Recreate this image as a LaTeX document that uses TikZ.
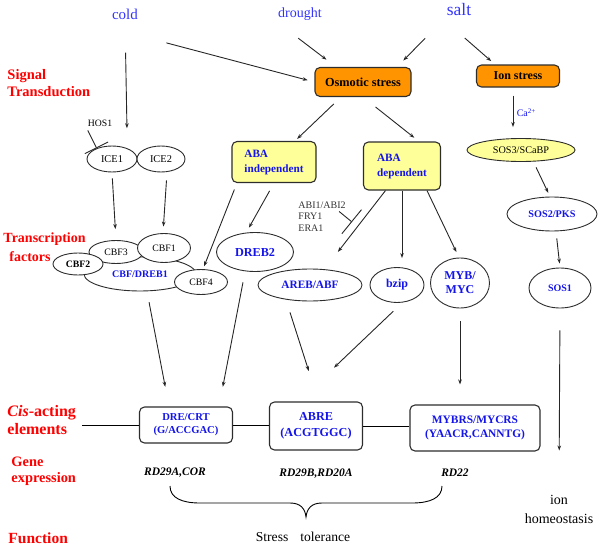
\documentclass[tikz,border=0pt]{standalone}
\usepackage{fontspec}
\setmainfont{Liberation Serif}
\usetikzlibrary{shapes.geometric,arrows.meta}

\definecolor{stimblue}{RGB}{51,51,255}
\definecolor{nodeblue}{RGB}{20,20,235}
\definecolor{osmorange}{RGB}{255,148,0}
\definecolor{abayellow}{RGB}{255,255,153}
\definecolor{edgegray}{RGB}{45,45,45}
\newcommand{\fsz}[2]{\fontsize{#1}{#2}\selectfont}

\begin{document}
\begin{tikzpicture}[x=1pt,y=-1pt,line width=0.9pt,
  stage/.style={text=red,align=left,anchor=west,inner sep=0pt},
  stim/.style={text=stimblue,inner sep=1pt},
  ell/.style={ellipse,draw=edgegray,fill=white,inner sep=0pt},
  yell/.style={ell,fill=abayellow},
  obox/.style={rectangle,rounded corners=5pt,draw=edgegray,fill=osmorange,line width=1.1pt,inner sep=0pt},
  ybox/.style={obox,fill=abayellow,text=nodeblue,align=left},
  cbox/.style={obox,fill=white,text=nodeblue,align=center},
  gene/.style={font=\bfseries\itshape\fsz{11.5}{13}},
  arr/.style={-{Stealth[length=5pt,width=3.6pt]},draw=black!85},
  inh/.style={-{Bar[width=#1]},draw=black!85},
]
\useasboundingbox (0,0) rectangle (600,546);

% stimuli and stage labels
\node[stim,font=\fsz{15}{18}] (cold) at (125,14) {cold};
\node[stim,font=\fsz{14}{17}] (drought) at (300,14) {drought};
\node[stim,font=\fsz{17.5}{20}] (salt) at (459,10) {salt};

\node[stage,font=\bfseries\fsz{14.5}{17}] (signal) at (7,83.5) {Signal\\Transduction};
\node[stage,font=\bfseries\fsz{14}{19}] (transf) at (3,247.5) {Transcription\\\hspace*{6pt}factors};
\node[stage,font=\bfseries\fsz{16}{18}] (cis) at (7,420) {\textit{Cis}-acting\\elements};
\node[stage,font=\bfseries\fsz{14.4}{16}] (geneexp) at (11,471) {Gene\\expression};
\node[stage,font=\bfseries\fsz{15.5}{18}] (func) at (8,538) {Function};

% signal transduction
\node[obox,minimum width=96pt,minimum height=29pt,font=\bfseries\fsz{12.3}{14}] (osm) at (363,82) {Osmotic stress};
\node[obox,minimum width=83pt,minimum height=22pt,font=\bfseries\fsz{12}{14}] (ion) at (518,76) {Ion stress};
\node[yell,minimum width=108pt,minimum height=23pt,font=\fsz{10.2}{12}] (sos3) at (521,150) {SOS3/SCaBP};
\node[ell,text=nodeblue,minimum width=90pt,minimum height=34pt,font=\bfseries\fsz{10.2}{12}] (sos2) at (552,214) {SOS2/PKS};
\node[ell,text=nodeblue,minimum width=62pt,minimum height=40pt,font=\bfseries\fsz{10}{12}] (sos1) at (560,288) {SOS1};
\node[font=\fsz{14}{19},align=center] (homeo) at (559,509.5) {ion\\homeostasis};

\node[font=\fsz{9.7}{11},inner sep=1pt] (hos1) at (100,123) {HOS1};
\node[ell,minimum width=50pt,minimum height=26pt,font=\fsz{10.4}{12}] (ice1) at (112,159) {ICE1};
\node[ell,minimum width=48pt,minimum height=26pt,font=\fsz{10.4}{12}] (ice2) at (161,159) {ICE2};

\node[ybox,minimum width=84pt,minimum height=41pt,font=\bfseries\fsz{11.2}{15}] (abaind) at (274,162) {ABA\\independent};
\node[ybox,minimum width=77pt,minimum height=48pt,font=\bfseries\fsz{11.2}{15}] (abadep) at (402,166) {ABA\\dependent};
\node[font=\fsz{10}{11.5},align=left,anchor=west,inner sep=1pt,text=black!80] (abi) at (297,216.5) {ABI1/ABI2\\FRY1\\ERA1};
\coordinate (abiblock) at (352,222);

% transcription factors
\node[ell,text=nodeblue,minimum width=77pt,minimum height=39pt,font=\bfseries\fsz{12.2}{14}] (dreb2) at (255,252) {DREB2};
\node[ell,text=nodeblue,minimum width=104pt,minimum height=32pt,font=\bfseries\fsz{11.3}{13}] (areb) at (310,285) {AREB/ABF};
\node[ell,text=nodeblue,minimum width=54pt,minimum height=35pt,font=\bfseries\fsz{12}{14}] (bzip) at (397,285) {bzip};
\node[ell,text=nodeblue,minimum width=59pt,minimum height=50pt,font=\bfseries\fsz{12}{14},align=center] (myb) at (460,283) {MYB/\\MYC};

\node[ell,text=nodeblue,minimum width=112pt,minimum height=34pt,font=\bfseries\fsz{10}{12}] (cbfdreb) at (140,274) {CBF/DREB1};
\node[ell,minimum width=54pt,minimum height=23pt,font=\fsz{9.8}{12}] (cbf3) at (116,252) {CBF3};
\node[ell,minimum width=53pt,minimum height=29pt,font=\fsz{9.8}{12}] (cbf1) at (164,248) {CBF1};
\node[ell,minimum width=50pt,minimum height=22pt,font=\bfseries\fsz{9.8}{12}] (cbf2) at (78,264) {CBF2};
\node[ell,minimum width=53pt,minimum height=25pt,font=\fsz{9.8}{12}] (cbf4) at (201,282) {CBF4};

% cis-acting elements and genes
\node[cbox,minimum width=93pt,minimum height=36pt,font=\bfseries\fsz{10.6}{13}] (dre) at (186,425) {DRE/CRT\\(G/ACCGAC)};
\node[cbox,minimum width=93pt,minimum height=48pt,font=\bfseries\fsz{12.2}{15.5}] (abre) at (316,426) {ABRE\\(ACGTGGC)};
\node[cbox,minimum width=130pt,minimum height=46pt,font=\bfseries\fsz{11.4}{14}] (mybrs) at (475,428) {MYBRS/MYCRS\\(YAACR,CANNTG)};

\node[gene] (rd29a) at (175,473) {RD29A,COR};
\node[gene] (rd29b) at (316,474) {RD29B,RD20A};
\node[gene] (rd22) at (455,473) {RD22};
\node[font=\fsz{13.6}{16}] (tol) at (303,537) {Stress\hspace{12pt}tolerance};

\draw[shorten <=6pt] (cis.east |- dre.west) -- (dre.west);
\draw (dre.east) -- (dre.east -| abre.west);
\draw (abre.east) -- (abre.east -| mybrs.west);

% arrows
\draw[arr,shorten <=32pt,shorten >=20pt] (cold.south) -- (ice1.35);
\draw[arr,shorten <=28pt,shorten >=7pt] ([yshift=-15pt]cold.south east) -- (osm.west);
\draw[arr,shorten <=27pt,shorten >=12pt] (drought.south west) -- ([xshift=-27pt]osm.north);
\draw[arr,shorten <=29pt,shorten >=9pt] (salt.south west) -- ([xshift=34pt]osm.north);
\draw[arr,shorten <=31pt,shorten >=5pt] ([xshift=-4pt]salt.south west) -- ([xshift=-23pt]ion.north);
\draw[arr,shorten <=10pt,shorten >=3pt] ([xshift=-22pt]osm.south) -- ([xshift=21pt]abaind.north);
\draw[arr,shorten <=16pt,shorten >=6pt] (osm.south) -- ([xshift=17pt]abadep.north);
\draw[arr,shorten <=8pt,shorten >=11pt] ([xshift=-5pt]ion.south) -- ([xshift=-8pt]sos3.north)
  node[midway,right,text=nodeblue,font=\fsz{10}{12}] (ca) {Ca\textsuperscript{2+}};
\draw[arr,shorten <=6pt,shorten >=4pt] ([xshift=12.5pt]sos3.south) -- ([xshift=-2pt]sos2.north);
\draw[arr,shorten <=7pt,shorten >=4pt] ([xshift=4pt]sos2.south) -- (sos1.north);
\draw[arr,shorten <=22pt,shorten >=41pt] (sos1.south) -- (homeo.north);

\draw[inh=26pt,shorten <=3pt] (hos1.south west) -- (ice1.145);
\draw[inh=31pt] ([shift={(-8pt,5pt)}]abi.east) -- (abiblock);

\draw[arr,shorten <=6pt,shorten >=11pt] (ice1.south) -- (cbf3.north);
\draw[arr,shorten <=8pt,shorten >=6.5pt] ([xshift=6pt]ice2.south) -- ([xshift=-1pt]cbf1.north);
\draw[arr,shorten <=7pt,shorten >=3pt] ([xshift=5.5pt]abaind.south west) -- ([xshift=2pt]cbf4.north);
\draw[arr,shorten <=9pt,shorten >=5pt] (abaind.south) -- ([xshift=-8.5pt]dreb2.north);
\draw[arr,shorten >=21pt] ([xshift=-16.5pt]abadep.south) -- ([xshift=15pt]areb.north);
\draw[arr,shorten >=9pt] (abadep.south) -- (abadep.south |- bzip.north);
\draw[arr,shorten >=6pt] ([xshift=25pt]abadep.south) -- ([xshift=-1pt]myb.north);

\draw[arr,shorten <=11pt,shorten >=20pt] ([xshift=7pt]cbfdreb.south) -- ([xshift=-17pt]dre.north);
\draw[arr,shorten <=10.5pt,shorten >=20pt] ([xshift=-10pt]dreb2.south) -- ([xshift=33pt]dre.north);
\draw[arr,shorten <=11.5pt,shorten >=32pt] ([xshift=-23.5pt]areb.south) -- ([xshift=2.5pt]abre.north);
\draw[arr,shorten <=12pt,shorten >=49pt] ([xshift=5pt]bzip.south) -- ([xshift=-17.5pt]abre.north);
\draw[arr,shorten <=13pt,shorten >=20pt] (myb.south) -- (myb.south |- mybrs.north);

% brace
\draw (170,486) .. controls (170,498) and (182,503) .. (200,503) -- (290,503)
  .. controls (300,503) and (305,508) .. (306,517)
  .. controls (307,508) and (312,503) .. (322,503) -- (412,503)
  .. controls (430,503) and (442,498) .. (442,486);
\end{tikzpicture}
\end{document}
